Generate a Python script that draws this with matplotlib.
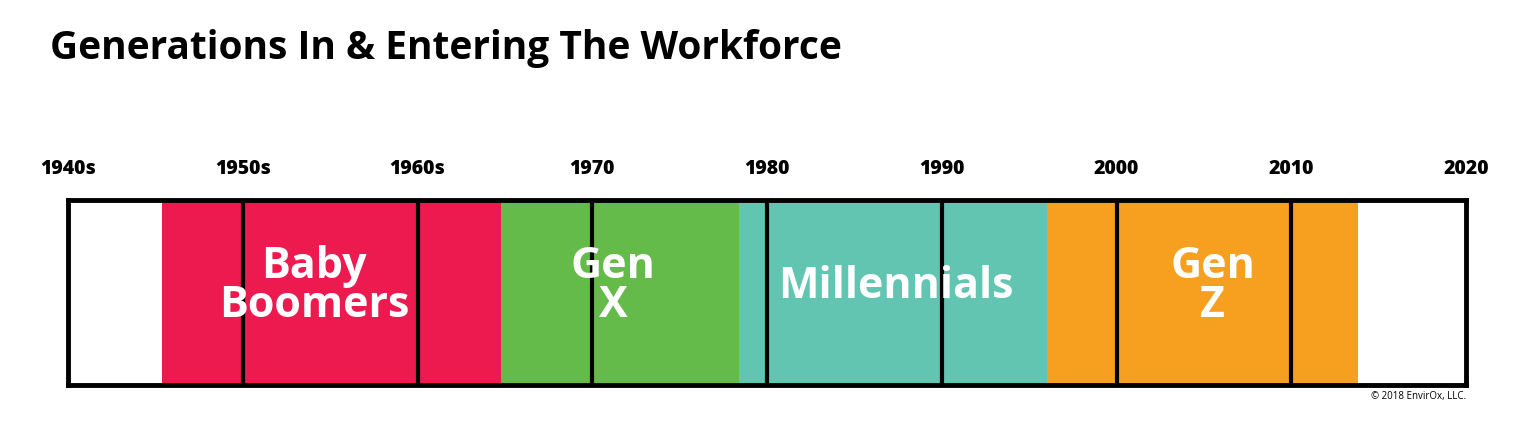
import matplotlib.pyplot as plt

plt.rcParams['font.family'] = ['Open Sans', 'DejaVu Sans']

generations = ['Baby\nBoomers', 'Gen\nX', 'Millennials', 'Gen\nZ']
starts = [1945.4, 1964.8, 1978.4, 1996.0]
ends = [1964.8, 1978.4, 1996.0, 2013.8]
colors = ['#ed1a4f', '#65bb4a', '#62c5b1', '#f7a020']
label_x = [1954.1, 1971.2, 1987.4, 2005.5]

ticks = [1940, 1950, 1960, 1970, 1980, 1990, 2000, 2010, 2020]
tick_labels = ['1940s', '1950s', '1960s', '1970', '1980', '1990', '2000', '2010', '2020']

fig = plt.figure(figsize=(15.36, 4.27), dpi=100)
ax = fig.add_axes([68 / 1536, 1 - 386 / 427, (1466 - 68) / 1536, 185 / 427])
ax.set_xlim(1940, 2020)
ax.set_ylim(0, 1)

for name, s, e, c, lx in zip(generations, starts, ends, colors, label_x):
    ax.axvspan(s, e, color=c, lw=0)
    ax.text(lx, 0.54, name, ha='center', va='center', color='white',
            fontsize=31, fontweight='bold', linespacing=0.9)

for t in ticks[1:-1]:
    ax.axvline(t, color='black', lw=3)

for sp in ax.spines.values():
    sp.set_linewidth(3.5)

ax.set_yticks([])
ax.set_xticks(ticks)
ax.set_xticklabels(tick_labels, fontsize=14, fontweight='heavy')
ax.xaxis.tick_top()
ax.tick_params(axis='x', length=0, pad=16)

fig.text(50 / 1536, 1 - 48 / 427, 'Generations In & Entering The Workforce',
         fontsize=28, fontweight='bold', va='center', ha='left')
fig.text(1466 / 1536, 1 - 397 / 427, '© 2018 EnvirOx, LLC.', fontsize=7,
         ha='right', va='center')

fig.savefig('out.png', dpi=100)
